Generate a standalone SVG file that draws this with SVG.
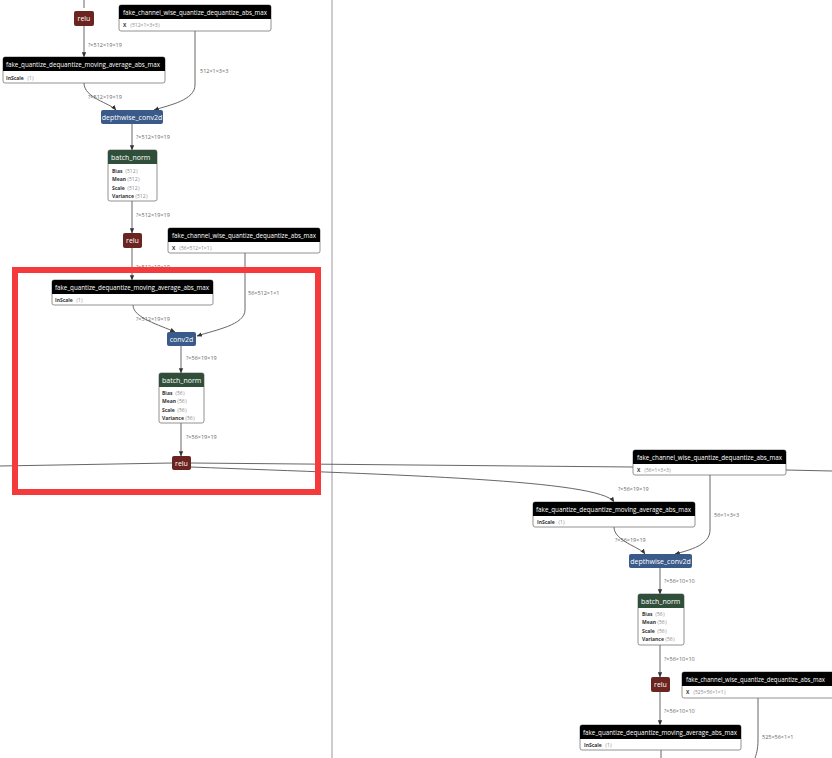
<svg xmlns="http://www.w3.org/2000/svg" width="832" height="758" viewBox="0 0 832 758">
<defs>
<marker id="ah" viewBox="0 0 10 10" refX="9" refY="5" markerWidth="6" markerHeight="6" orient="auto"><path d="M0,1 L10,5 L0,9 z" fill="#333"/></marker>
<style>
text{font-family:"Open Sans","Liberation Sans",sans-serif}
.e{fill:none;stroke:#555;stroke-width:0.9}
.ea{fill:none;stroke:#555;stroke-width:0.9;marker-end:url(#ah)}
.el{font-size:5.5px;fill:#666}
.hd{font-size:7px;fill:#fff}
.box{fill:#fff;stroke:#777;stroke-width:0.8}
.at{font-size:5px;fill:#333;font-weight:bold}
.av{font-size:5px;fill:#888}
</style>
</defs>
<rect width="832" height="758" fill="#fff"/>
<line x1="332" y1="0" x2="332" y2="758" stroke="#999" stroke-width="1"/>
<g id="connectors">
<path class="e" d="M84,0 V8"/>
<path class="ea" d="M84,26 V57"/>
<path class="ea" d="M84,83 C84,98 110,103 116,110"/>
<path class="ea" d="M195,31 V85 C195,100 170,105 154,110"/>
<path class="ea" d="M132,124 V150"/>
<path class="ea" d="M132,201 V233"/>
<path class="ea" d="M132,248 V280"/>
<path class="ea" d="M133,305 C133,318 160,325 175,332"/>
<path class="ea" d="M245,253 V310 C245,325 215,330 197,336"/>
<path class="ea" d="M181,346 V373"/>
<path class="ea" d="M181,423 V456"/>
<path class="e" d="M0,466 L172,463"/>
<path class="e" d="M191,463 L633,467"/>
<path class="e" d="M786,470 L832,471"/>
<path class="ea" d="M191,467 C400,475 600,480 614,502"/>
<path class="ea" d="M614,527 C614,541 640,547 645,554"/>
<path class="ea" d="M710,475 V530 C710,545 690,550 675,554"/>
<path class="ea" d="M660,568 V594"/>
<path class="ea" d="M660,645 V677"/>
<path class="ea" d="M660,692 V725"/>
<path class="e" d="M661,750 V758"/>
<path class="e" d="M758,698 V740 C758,750 756,755 755,758"/>
</g>
<g id="edge-labels">
<text class="el" x="88" y="47">?×512×19×19</text>
<text class="el" x="200" y="73">512×1×3×3</text>
<text class="el" x="88" y="99">?×512×19×19</text>
<text class="el" x="136" y="139">?×512×19×19</text>
<text class="el" x="136" y="217">?×512×19×19</text>
<text class="el" x="136" y="269">?×512×19×19</text>
<text class="el" x="248" y="295">56×512×1×1</text>
<text class="el" x="136" y="321">?×512×19×19</text>
<text class="el" x="186" y="360">?×56×19×19</text>
<text class="el" x="186" y="439">?×56×19×19</text>
<text class="el" x="618" y="491">?×56×19×19</text>
<text class="el" x="714" y="517">56×1×3×3</text>
<text class="el" x="615" y="542">?×56×19×19</text>
<text class="el" x="664" y="583">?×56×10×10</text>
<text class="el" x="664" y="661">?×56×10×10</text>
<text class="el" x="664" y="713">?×56×10×10</text>
<text class="el" x="762" y="739">525×56×1×1</text>
</g>
<g id="relu1"><rect x="74" y="11" width="20" height="15" rx="2" fill="#6b2420"/><text class="hd" x="84" y="21" text-anchor="middle">relu</text></g>
<g id="fcw1"><rect class="box" x="119" y="5" width="152" height="26" rx="2"/><path d="M121,5 H269 Q271,5 271,7 V19 H119 V7 Q119,5 121,5z" fill="#000"/><text class="hd" x="123" y="15" textLength="144" lengthAdjust="spacingAndGlyphs">fake_channel_wise_quantize_dequantize_abs_max</text><text class="at" x="123" y="27">X</text><text class="av" x="130" y="27">⟨512×1×3×3⟩</text></g>
<g id="fq1"><rect class="box" x="3" y="57" width="162" height="26" rx="2"/><path d="M5,57 H163 Q165,57 165,59 V71 H3 V59 Q3,57 5,57z" fill="#000"/><text class="hd" x="6" y="67" textLength="154" lengthAdjust="spacingAndGlyphs">fake_quantize_dequantize_moving_average_abs_max</text><text class="at" x="6" y="80">InScale</text><text class="av" x="27" y="80">⟨1⟩</text></g>
<g id="dw1"><rect x="101" y="110" width="62" height="14" rx="2" fill="#3a5a8a"/><text class="hd" x="132" y="120" text-anchor="middle">depthwise_conv2d</text></g>
<g id="bn1"><rect class="box" x="108" y="150" width="49" height="51" rx="2"/><path d="M110,150 H155 Q157,150 157,152 V164 H108 V152 Q108,150 110,150z" fill="#2f4f3a"/><text class="hd" x="111" y="160">batch_norm</text><text class="at" x="112" y="173">Bias</text><text class="av" x="125" y="173">⟨512⟩</text><text class="at" x="112" y="181">Mean</text><text class="av" x="127" y="181">⟨512⟩</text><text class="at" x="112" y="190">Scale</text><text class="av" x="127" y="190">⟨512⟩</text><text class="at" x="112" y="198">Variance</text><text class="av" x="135" y="198">⟨512⟩</text></g>
<g id="relu2"><rect x="123" y="233" width="19" height="15" rx="2" fill="#6b2420"/><text class="hd" x="132.5" y="243" text-anchor="middle">relu</text></g>
<g id="fcw2"><rect class="box" x="168" y="228" width="152" height="25" rx="2"/><path d="M170,228 H318 Q320,228 320,230 V242 H168 V230 Q168,228 170,228z" fill="#000"/><text class="hd" x="172" y="238" textLength="144" lengthAdjust="spacingAndGlyphs">fake_channel_wise_quantize_dequantize_abs_max</text><text class="at" x="172" y="250">X</text><text class="av" x="179" y="250">⟨56×512×1×1⟩</text></g>
<g id="fq2"><rect class="box" x="52" y="280" width="161" height="25" rx="2"/><path d="M54,280 H211 Q213,280 213,282 V294 H52 V282 Q52,280 54,280z" fill="#000"/><text class="hd" x="55" y="290" textLength="154" lengthAdjust="spacingAndGlyphs">fake_quantize_dequantize_moving_average_abs_max</text><text class="at" x="55" y="302">InScale</text><text class="av" x="76" y="302">⟨1⟩</text></g>
<g id="conv2d"><rect x="167" y="332" width="29" height="14" rx="2" fill="#3a5a8a"/><text class="hd" x="181.5" y="342" text-anchor="middle">conv2d</text></g>
<g id="bn2"><rect class="box" x="159" y="373" width="45" height="50" rx="2"/><path d="M161,373 H202 Q204,373 204,375 V387 H159 V375 Q159,373 161,373z" fill="#2f4f3a"/><text class="hd" x="162" y="383">batch_norm</text><text class="at" x="162" y="395">Bias</text><text class="av" x="175" y="395">⟨56⟩</text><text class="at" x="162" y="403">Mean</text><text class="av" x="177" y="403">⟨56⟩</text><text class="at" x="162" y="412">Scale</text><text class="av" x="177" y="412">⟨56⟩</text><text class="at" x="162" y="420">Variance</text><text class="av" x="185" y="420">⟨56⟩</text></g>
<g id="relu3"><rect x="172" y="456" width="19" height="14" rx="2" fill="#6b2420"/><text class="hd" x="181.5" y="466" text-anchor="middle">relu</text></g>
<g id="fcw3"><rect class="box" x="633" y="450" width="153" height="25" rx="2"/><path d="M635,450 H784 Q786,450 786,452 V464 H633 V452 Q633,450 635,450z" fill="#000"/><text class="hd" x="637" y="460" textLength="145" lengthAdjust="spacingAndGlyphs">fake_channel_wise_quantize_dequantize_abs_max</text><text class="at" x="637" y="472">X</text><text class="av" x="644" y="472">⟨56×1×3×3⟩</text></g>
<g id="fq3"><rect class="box" x="533" y="502" width="162" height="25" rx="2"/><path d="M535,502 H693 Q695,502 695,504 V516 H533 V504 Q533,502 535,502z" fill="#000"/><text class="hd" x="536" y="512" textLength="155" lengthAdjust="spacingAndGlyphs">fake_quantize_dequantize_moving_average_abs_max</text><text class="at" x="537" y="524">InScale</text><text class="av" x="558" y="524">⟨1⟩</text></g>
<g id="dw2"><rect x="629" y="554" width="63" height="14" rx="2" fill="#3a5a8a"/><text class="hd" x="660.5" y="564" text-anchor="middle">depthwise_conv2d</text></g>
<g id="bn3"><rect class="box" x="638" y="594" width="46" height="51" rx="2"/><path d="M640,594 H682 Q684,594 684,596 V608 H638 V596 Q638,594 640,594z" fill="#2f4f3a"/><text class="hd" x="641" y="604">batch_norm</text><text class="at" x="642" y="616">Bias</text><text class="av" x="655" y="616">⟨56⟩</text><text class="at" x="642" y="624">Mean</text><text class="av" x="657" y="624">⟨56⟩</text><text class="at" x="642" y="633">Scale</text><text class="av" x="657" y="633">⟨56⟩</text><text class="at" x="642" y="641">Variance</text><text class="av" x="665" y="641">⟨56⟩</text></g>
<g id="relu4"><rect x="651" y="677" width="19" height="15" rx="2" fill="#6b2420"/><text class="hd" x="660.5" y="687" text-anchor="middle">relu</text></g>
<g id="fcw4"><rect class="box" x="682" y="672" width="156" height="26" rx="2"/><path d="M684,672 H836 V686 H682 V674 Q682,672 684,672z" fill="#000"/><text class="hd" x="686" y="682" textLength="139" lengthAdjust="spacingAndGlyphs">fake_channel_wise_quantize_dequantize_abs_max</text><text class="at" x="686" y="694">X</text><text class="av" x="693" y="694">⟨525×56×1×1⟩</text></g>
<g id="fq4"><rect class="box" x="580" y="725" width="161" height="25" rx="2"/><path d="M582,725 H739 Q741,725 741,727 V739 H580 V727 Q580,725 582,725z" fill="#000"/><text class="hd" x="583" y="735" textLength="154" lengthAdjust="spacingAndGlyphs">fake_quantize_dequantize_moving_average_abs_max</text><text class="at" x="584" y="747">InScale</text><text class="av" x="605" y="747">⟨1⟩</text></g>
<rect x="15" y="270" width="303" height="222" fill="none" stroke="#f43a3a" stroke-width="6"/>
</svg>
